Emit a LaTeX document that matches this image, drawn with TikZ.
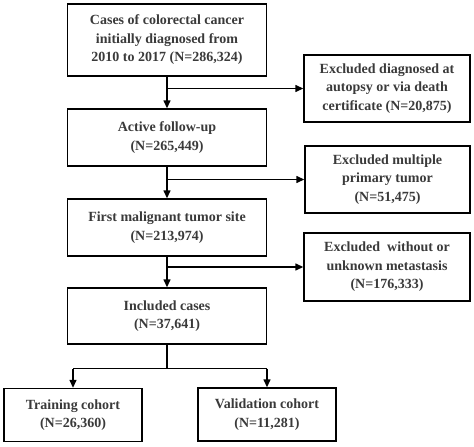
\documentclass[tikz,border=0pt]{standalone}
\usepackage{fontspec}
\setmainfont{Liberation Serif}
\usetikzlibrary{arrows.meta}
\definecolor{txt}{HTML}{3A3A3A}
\begin{document}
\begin{tikzpicture}[x=1pt,y=-1pt,
  box/.style={draw=black,line width=1.4pt,rectangle,align=center,inner sep=0pt,
    font=\fontsize{14}{18.5}\selectfont\bfseries,text=txt},
  arr/.style={line width=1.4pt,-{Triangle[length=8pt,width=7pt]}},
  ln/.style={line width=1.4pt}]
\useasboundingbox (0,0) rectangle (474,447);
\node[box,minimum width=199pt,minimum height=72pt] (b1) at (167,40) {Cases of colorectal cancer\\initially diagnosed from\\2010 to 2017 (N=286,324)};
\node[box,minimum width=166pt,minimum height=67pt] (e1) at (387,88.5) {Excluded diagnosed at\\autopsy or via death\\certificate (N=20,875)};
\node[box,minimum width=199pt,minimum height=57pt] (b2) at (167,137.5) {Active follow-up\\(N=265,449)};
\node[box,minimum width=165pt,minimum height=67pt] (e2) at (387.5,179.5) {Excluded multiple\\primary tumor\\(N=51,475)};
\node[box,minimum width=199pt,minimum height=57pt] (b3) at (167,227.5) {First malignant tumor site\\(N=213,974)};
\node[box,minimum width=166pt,minimum height=68pt] (e3) at (387,267) {Excluded\ \ without or\\unknown metastasis\\(N=176,333)};
\node[box,minimum width=199pt,minimum height=56pt] (b4) at (167,316) {Included cases\\(N=37,641)};
\node[box,minimum width=138pt,minimum height=53pt] (t) at (73,415) {Training cohort\\(N=26,360)};
\node[box,minimum width=138pt,minimum height=53pt] (v) at (267,414.5) {Validation cohort\\(N=11,281)};
\draw[arr] (b1.south) -- (b2.north);
\draw[arr] (b1.south |- e1.west) -- (e1.west);
\draw[arr] (b2.south) -- (b3.north);
\draw[arr] (b2.south |- e2.west) -- (e2.west);
\draw[arr] (b3.south) -- (b4.north);
\draw[arr] (b3.south |- e3.west) -- (e3.west);
\draw[ln] (b4.south) -- ++(0,24) coordinate (sp);
\draw[ln] (sp -| t.north) -- (sp -| v.north);
\draw[arr] (sp -| t.north) -- (t.north);
\draw[arr] (sp -| v.north) -- (v.north);
\end{tikzpicture}
\end{document}
